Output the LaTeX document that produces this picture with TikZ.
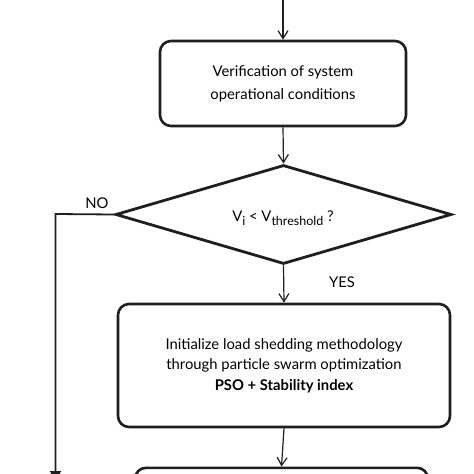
\documentclass[tikz,border=0pt]{standalone}
\usepackage{fontspec}
\setmainfont{Lato}
\usetikzlibrary{shapes.geometric,arrows.meta}
\newcommand{\lowsub}[1]{\raisebox{-0.45ex}{\fontsize{12.5}{13}\selectfont #1}}
\begin{document}
\begin{tikzpicture}[x=1pt,y=-1pt,
  box/.style={draw=black!88, line width=2.6pt, rounded corners=11pt, fill=white, inner sep=0pt, align=center,
    font=\fontsize{14.8}{23}\selectfont},
  dia/.style={draw=black!88, line width=2.8pt, diamond, inner sep=0pt, fill=white},
  flow/.style={draw=black!88, line width=1.2pt, -{Straight Barb[length=8pt,width=10pt,line width=1.2pt]}},
  flowf/.style={draw=black!88, line width=1.8pt, -{Triangle[length=10pt,width=11pt]}},
  lbl/.style={font=\fontsize{14.8}{16}\selectfont, inner sep=0pt}]
\useasboundingbox (0,0) rectangle (474,474);
\fill[white] (0,0) rectangle (474,474);
\coordinate (start) at (283,-5);
\node[box, minimum width=246pt, minimum height=85pt] (verif) at (283,83.5)
  {Verification of system\\operational conditions};
\node[dia, minimum width=336pt, minimum height=99pt] (cond) at (283.5,214.5) {};
\node[lbl] (condtext) at (283,218) {V\lowsub{i} < V\lowsub{threshold} ?};
\node[box, minimum width=332pt, minimum height=123pt, font=\fontsize{14.8}{20.5}\selectfont] (pso) at (284,365.5)
  {Initialize load shedding methodology\\through particle swarm optimization\\\textbf{PSO + Stability index}};
\node[box, minimum width=293pt, minimum height=80pt, anchor=north] (next) at (281.5,466.5) {};
\coordinate (corner) at (55.5,214);
\coordinate (offend) at (55.5,481);
\node[lbl] (no) at (97,203) {NO};
\node[lbl] (yes) at (342,282) {YES};
\draw[flow] (start) -- (verif.north);
\draw[flow] (verif.south) -- (cond.north);
\draw[flow] (cond.south) -- (pso.north);
\draw[flow] (pso.south) -- (next.north);
\draw[flowf] (cond.west) -- (corner) -- (offend);
\end{tikzpicture}
\end{document}
